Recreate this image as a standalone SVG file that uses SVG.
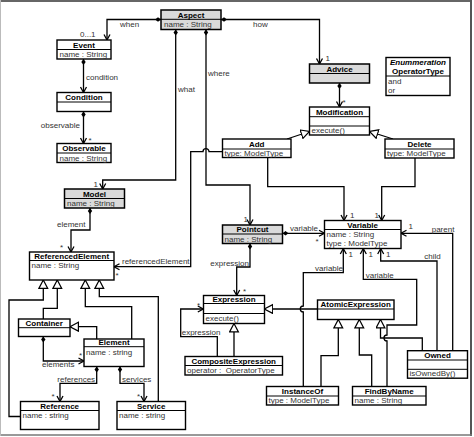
<svg xmlns="http://www.w3.org/2000/svg" width="474" height="437" viewBox="0 0 474 437">
<style>
.box{fill:#fff;stroke:#000;stroke-width:1.4}
.gbox{fill:#dadada;stroke:#000;stroke-width:1.5}
.dv{stroke:#000;stroke-width:1}
.cn{font-family:"Liberation Sans",Arial,sans-serif;font-size:8px;font-weight:bold;text-anchor:middle;fill:#000}
.at{font-family:"Liberation Sans",Arial,sans-serif;font-size:8px;fill:#333}
.lb{font-family:"Liberation Sans",Arial,sans-serif;font-size:8px;fill:#333}
.end{text-anchor:end}
.cx{fill:none;stroke:#000;stroke-width:1.3}
.as{marker-start:url(#dia);marker-end:url(#arr)}
.ar{marker-end:url(#arr)}
.ge{marker-end:url(#tri)}
</style>
<defs>
<marker id="arr" markerUnits="userSpaceOnUse" markerWidth="10" markerHeight="10" refX="6.5" refY="4" orient="auto"><path d="M1,1 L6.5,4 L1,7" fill="none" stroke="#000" stroke-width="1.3"/></marker>
<marker id="dia" markerUnits="userSpaceOnUse" markerWidth="10" markerHeight="8" refX="0" refY="3" orient="auto"><path d="M0,3 L3,0.8 L6,3 L3,5.2 Z" fill="#000"/></marker>
<marker id="tri" markerUnits="userSpaceOnUse" markerWidth="12" markerHeight="12" refX="9" refY="5" orient="auto"><path d="M0.6,0.6 L9,5 L0.6,9.4 Z" fill="#fff" stroke="#000" stroke-width="1.2"/></marker>
</defs>
<rect width="474" height="437" fill="#fff"/>
<g id="frame" fill="none">
<line x1="0" y1="1" x2="472" y2="1" stroke="#666" stroke-width="2"/>
<line x1="471" y1="0" x2="471" y2="436" stroke="#555" stroke-width="2"/>
<line x1="0" y1="435" x2="472" y2="435" stroke="#777" stroke-width="1.5"/>
<line x1="0.5" y1="0" x2="0.5" y2="436" stroke="#bbb" stroke-width="1"/>
</g>
<g id="connectors">
<path class="cx as" d="M161,19.5 L107,19.5 L107,40"/>
<path class="cx as" d="M221,19.5 L319.5,19.5 L319.5,64"/>
<path class="cx as" d="M175.7,29.5 L175.7,180 L102.7,180 L102.7,189"/>
<path class="cx as" d="M206,29.5 L206,185 L250,185 L250,225"/>
<path class="cx ar" d="M222.5,151.7 L209,151.7 A3,3 0 0 0 203,151.7 L190.7,151.7 L190.7,266.7 L114,266.7"/>
<path class="cx as" d="M83.5,59 L83.5,92.5"/>
<path class="cx as" d="M83.5,111.5 L83.5,143.5"/>
<path class="cx as" d="M339.5,83 L339.5,107"/>
<path class="cx ge" d="M287,139 L309.5,131.5"/>
<path class="cx ge" d="M393,139 L369.5,131.5"/>
<path class="cx ar" d="M267.7,157.5 L267.7,186.7 L344,186.7 L344,220.5"/>
<path class="cx ar" d="M415,158 L415,186.7 L381.7,186.7 L381.7,220.5"/>
<path class="cx as" d="M90,208 L90,230 L71,230 L71,252"/>
<path class="cx ge" d="M20.5,416.5 L9,416.5 L9,300 L43.3,300 L43.3,280"/>
<path class="cx ge" d="M43.3,319 L43.3,308.3 L57.3,308.3 L57.3,280"/>
<path class="cx ge" d="M131.7,339 L131.7,306.7 L85.3,306.7 L85.3,280"/>
<path class="cx ge" d="M158.3,401.5 L158.3,296.7 L99.3,296.7 L99.3,280"/>
<path class="cx ge" d="M96.7,339 L96.7,326.7 L70,326.7"/>
<path class="cx as" d="M43.3,336.5 L43.3,361 L84,361"/>
<path class="cx as" d="M96.7,366.5 L96.7,383.3 L60,383.3 L60,401.5"/>
<path class="cx as" d="M120,366.5 L120,383.3 L144,383.3 L144,401.5"/>
<path class="cx as" d="M282.5,233.3 L324.5,233.3"/>
<path class="cx as" d="M250,243.5 L250,267 L236.7,267 L236.7,295.5"/>
<path class="cx ar" d="M303.3,386.5 L303.3,312 A3,3 0 0 1 303.3,306 L303.3,272.7 L343.3,272.7 L343.3,248.5"/>
<path class="cx ar" d="M387,386.5 L387,341 A3,3 0 0 1 387,335 L387,325 L416.7,325 L416.7,279.3 L363.3,279.3 L363.3,248.5"/>
<path class="cx ar" d="M437,350.7 L437,261 L380.7,261 L380.7,248.5"/>
<path class="cx ar" d="M452.7,350.7 L452.7,233.3 L401,233.3"/>
<path class="cx ge" d="M317.5,309 L264.3,309"/>
<path class="cx ge" d="M234,356.5 L234,323.5"/>
<path class="cx ar" d="M217.3,356.5 L217.3,336.7 L180.7,336.7 L180.7,309 L203.3,309"/>
<path class="cx ge" d="M321,386.5 L321,355.7 L338.3,355.7 L338.3,319.5"/>
<path class="cx ge" d="M371.7,386.5 L371.7,355 L359.3,355 L359.3,319.5"/>
<path class="cx ge" d="M422.3,350.7 L422.3,338 L380.5,338 L380.5,319.5"/>
</g>
<g id="labels">
<text class="lb" x="120" y="27">when</text>
<text class="lb" x="80" y="37">0...1</text>
<text class="lb" x="253" y="26.5">how</text>
<text class="lb" x="325.5" y="61">1</text>
<text class="lb" x="178" y="91.5">what</text>
<text class="lb" x="208" y="76">where</text>
<text class="lb" x="86" y="80">condition</text>
<text class="lb end" x="80" y="128">observable</text>
<text class="lb" x="88.5" y="143">*</text>
<text class="lb" x="342.5" y="104.5">*</text>
<text class="lb" x="57" y="227.3">element</text>
<text class="lb" x="60" y="250">*</text>
<text class="lb end" x="98" y="186.5">1</text>
<text class="lb" x="122" y="263.5">referencedElement</text>
<text class="lb" x="115.5" y="277.5">*</text>
<text class="lb end" x="249" y="266">expression</text>
<text class="lb" x="243" y="293.5">*</text>
<text class="lb end" x="248" y="222">1</text>
<text class="lb" x="290" y="230.5">variable</text>
<text class="lb" x="315.5" y="243.5">*</text>
<text class="lb" x="350" y="218">1</text>
<text class="lb end" x="379" y="218">1</text>
<text class="lb" x="348.5" y="256.5">1</text>
<text class="lb" x="368.5" y="256.5">1</text>
<text class="lb" x="386" y="256.5">1</text>
<text class="lb" x="315" y="270.5">variable</text>
<text class="lb" x="365.7" y="277.5">variable</text>
<text class="lb" x="424.3" y="258.5">child</text>
<text class="lb" x="431.7" y="231.5">parent</text>
<text class="lb" x="408.5" y="228.5">1</text>
<text class="lb" x="181.7" y="335">expression</text>
<text class="lb" x="197" y="307.5">*</text>
<text class="lb" x="42" y="367">elements</text>
<text class="lb" x="79" y="357.5">*</text>
<text class="lb" x="57.3" y="381.5">references</text>
<text class="lb" x="51.5" y="399">*</text>
<text class="lb" x="122" y="381.5">services</text>
<text class="lb" x="137" y="399">*</text>
</g>
<g id="Aspect">
<rect class="gbox" x="161" y="10" width="60" height="19.5"/>
<line class="dv" x1="161" y1="19.3" x2="221" y2="19.3"/>
<text class="cn" x="191" y="17.5">Aspect</text>
<text class="at" x="164" y="27.3">name : String</text>
</g>
<g id="Event">
<rect class="box" x="57" y="40" width="54" height="19"/>
<line class="dv" x1="57" y1="49.5" x2="111" y2="49.5"/>
<text class="cn" x="84" y="47.8">Event</text>
<text class="at" x="59.5" y="57.3">name : String</text>
</g>
<g id="Condition">
<rect class="box" x="57" y="92.5" width="54" height="19"/>
<line class="dv" x1="57" y1="102" x2="111" y2="102"/>
<text class="cn" x="84" y="100.3">Condition</text>
</g>
<g id="Observable">
<rect class="box" x="57" y="143.5" width="54" height="19"/>
<line class="dv" x1="57" y1="153" x2="111" y2="153"/>
<text class="cn" x="84" y="151.3">Observable</text>
<text class="at" x="59.5" y="160.7">name : String</text>
</g>
<g id="Advice">
<rect class="gbox" x="309.5" y="64" width="60" height="19"/>
<line class="dv" x1="309.5" y1="73.5" x2="369.5" y2="73.5"/>
<text class="cn" x="339.5" y="71.8">Advice</text>
</g>
<g id="Modification">
<rect class="box" x="309.5" y="107" width="60" height="28"/>
<line class="dv" x1="309.5" y1="116.7" x2="369.5" y2="116.7"/>
<line class="dv" x1="309.5" y1="126" x2="369.5" y2="126"/>
<text class="cn" x="339.5" y="115">Modification</text>
<text class="at" x="311.5" y="133.2">execute()</text>
</g>
<g id="OperatorType">
<rect class="box" x="386" y="57.5" width="64" height="38"/>
<line class="dv" x1="386" y1="76" x2="450" y2="76"/>
<text class="cn" x="418" y="64.5" font-style="italic">Enummeration</text>
<text class="cn" x="418" y="74">OperatorType</text>
<text class="at" x="388" y="84">and</text>
<text class="at" x="388" y="92.5">or</text>
</g>
<g id="Add">
<rect class="box" x="222.5" y="139" width="68.5" height="18.5"/>
<line class="dv" x1="222.5" y1="149" x2="291" y2="149"/>
<text class="cn" x="256.7" y="147.3">Add</text>
<text class="at" x="224.5" y="155.8">type: ModelType</text>
</g>
<g id="Delete">
<rect class="box" x="385" y="139" width="69" height="19"/>
<line class="dv" x1="385" y1="149" x2="454" y2="149"/>
<text class="cn" x="419.5" y="147.3">Delete</text>
<text class="at" x="387" y="156">type: ModelType</text>
</g>
<g id="Model">
<rect class="gbox" x="64.5" y="189" width="60" height="19"/>
<line class="dv" x1="64.5" y1="198.5" x2="124.5" y2="198.5"/>
<text class="cn" x="94.5" y="196.8">Model</text>
<text class="at" x="67" y="205.8">name : String</text>
</g>
<g id="ReferencedElement">
<rect class="box" x="29.5" y="252" width="84.5" height="28"/>
<line class="dv" x1="29.5" y1="260.5" x2="114" y2="260.5"/>
<text class="cn" x="71.7" y="258.8">ReferencedElement</text>
<text class="at" x="31.5" y="268.3">name : String</text>
</g>
<g id="Pointcut">
<rect class="gbox" x="222.5" y="225" width="60" height="18.5"/>
<line class="dv" x1="222.5" y1="234" x2="282.5" y2="234"/>
<text class="cn" x="252.5" y="232.3">Pointcut</text>
<text class="at" x="224.5" y="241.5">name : String</text>
</g>
<g id="Variable">
<rect class="box" x="324.5" y="220.5" width="76.5" height="28"/>
<line class="dv" x1="324.5" y1="229.5" x2="401" y2="229.5"/>
<text class="cn" x="362.7" y="227.8">Variable</text>
<text class="at" x="326.5" y="237">name : String</text>
<text class="at" x="326.5" y="246">type : ModelType</text>
</g>
<g id="Expression">
<rect class="box" x="203.5" y="295.5" width="61" height="28"/>
<line class="dv" x1="203.5" y1="303.5" x2="264.5" y2="303.5"/>
<line class="dv" x1="203.5" y1="313.5" x2="264.5" y2="313.5"/>
<text class="cn" x="234" y="301.8">Expression</text>
<text class="at" x="205.5" y="320.7">execute()</text>
</g>
<g id="AtomicExpression">
<rect class="box" x="317.5" y="300" width="76.5" height="19.5"/>
<line class="dv" x1="317.5" y1="309" x2="394" y2="309"/>
<text class="cn" x="355.7" y="307.3">AtomicExpression</text>
</g>
<g id="CompositeExpression">
<rect class="box" x="185" y="356.5" width="97.5" height="18.5"/>
<line class="dv" x1="185" y1="365.5" x2="282.5" y2="365.5"/>
<text class="cn" x="233.7" y="363.8">CompositeExpression</text>
<text class="at" x="187" y="373" style="white-space:pre">operator :  OperatorType</text>
</g>
<g id="Owned">
<rect class="box" x="407.5" y="350.7" width="60" height="27.5"/>
<line class="dv" x1="407.5" y1="360" x2="467.5" y2="360"/>
<line class="dv" x1="407.5" y1="369.3" x2="467.5" y2="369.3"/>
<text class="cn" x="437.5" y="358.3">Owned</text>
<text class="at" x="409.5" y="376.3">isOwnedBy()</text>
</g>
<g id="InstanceOf">
<rect class="box" x="266.5" y="386.5" width="72" height="18.5"/>
<line class="dv" x1="266.5" y1="396" x2="338.5" y2="396"/>
<text class="cn" x="302.5" y="394.3">InstanceOf</text>
<text class="at" x="268.5" y="403.3">type : ModelType</text>
</g>
<g id="FindByName">
<rect class="box" x="352.5" y="386.5" width="73.5" height="18.5"/>
<line class="dv" x1="352.5" y1="396" x2="426" y2="396"/>
<text class="cn" x="389.2" y="394.3">FindByName</text>
<text class="at" x="354.5" y="403.3">name : String</text>
</g>
<g id="Container">
<rect class="box" x="18.5" y="319" width="51.5" height="17.5"/>
<line class="dv" x1="18.5" y1="327.7" x2="70" y2="327.7"/>
<text class="cn" x="44.2" y="326">Container</text>
</g>
<g id="Element">
<rect class="box" x="84" y="339" width="60" height="27.5"/>
<line class="dv" x1="84" y1="346.7" x2="144" y2="346.7"/>
<text class="cn" x="114" y="345.3">Element</text>
<text class="at" x="86" y="354.5">name : string</text>
</g>
<g id="Reference">
<rect class="box" x="20.5" y="401.5" width="78.5" height="28"/>
<line class="dv" x1="20.5" y1="410.5" x2="99" y2="410.5"/>
<text class="cn" x="59.7" y="408.8">Reference</text>
<text class="at" x="22.5" y="418.3">name : string</text>
</g>
<g id="Service">
<rect class="box" x="117" y="401.5" width="68.5" height="28"/>
<line class="dv" x1="117" y1="410.5" x2="185.5" y2="410.5"/>
<text class="cn" x="151.2" y="408.8">Service</text>
<text class="at" x="119" y="418.3">name : string</text>
</g>
</svg>
